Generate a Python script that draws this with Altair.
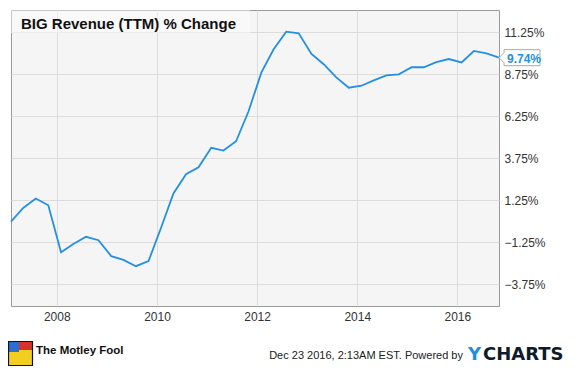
import altair as alt
import pandas as pd

# ---- data ----
dates = [
    "2007-02-01", "2007-05-01", "2007-08-01", "2007-10-31",
    "2008-02-01", "2008-05-01", "2008-08-01", "2008-10-31",
    "2009-02-01", "2009-05-01", "2009-08-01", "2009-10-31",
    "2010-02-01", "2010-05-01", "2010-08-01", "2010-10-31",
    "2011-02-01", "2011-05-01", "2011-08-01", "2011-10-31",
    "2012-02-01", "2012-05-01", "2012-08-01", "2012-10-31",
    "2013-02-01", "2013-05-01", "2013-08-01", "2013-10-31",
    "2014-02-01", "2014-05-01", "2014-08-01", "2014-10-31",
    "2015-02-01", "2015-05-01", "2015-08-01", "2015-10-31",
    "2016-02-01", "2016-05-01", "2016-08-01", "2016-10-31",
]
values = [
    -0.02, 0.79, 1.35, 0.95, -1.85, -1.36, -0.93, -1.13,
    -2.08, -2.30, -2.68, -2.38, -0.36, 1.65, 2.80, 3.21,
    4.37, 4.21, 4.76, 6.55, 8.85, 10.24, 11.29, 11.19,
    9.96, 9.35, 8.57, 7.95, 8.07, 8.39, 8.69, 8.75,
    9.17, 9.17, 9.48, 9.66, 9.46, 10.14, 10.00, 9.74,
]
y_ticks = [-3.75, -1.25, 1.25, 3.75, 6.25, 8.75, 11.25]
x_tick_years = [2008, 2010, 2012, 2014, 2016]
title_text = "BIG Revenue (TTM) % Change"
last_label = "9.74%"

BLUE = "#2390e6"
FONT = "Liberation Sans"

df = pd.DataFrame({"date": pd.to_datetime(dates), "value": values})
last_df = pd.DataFrame({"date": [pd.to_datetime(dates[-1])], "value": [values[-1]], "label": [last_label]})

x_enc = alt.X(
    "date:T",
    scale=alt.Scale(padding=0),
    axis=alt.Axis(
        values=[alt.DateTime(year=y, month=1, date=1) for y in x_tick_years],
        format="%Y", grid=True, gridColor="#dcdcdc", domain=False, ticks=False,
        labelFontSize=12, labelColor="#333333", labelPadding=5, labelFont=FONT,
        title=None,
    ),
)
y_enc = alt.Y(
    "value:Q",
    scale=alt.Scale(domain=[-5.05, 12.58], nice=False, zero=False),
    axis=alt.Axis(
        orient="right", values=y_ticks,
        labelExpr="format(datum.value, '.2f') + '%'",
        grid=True, gridColor="#dcdcdc", domain=False, ticks=False,
        labelFontSize=12, labelColor="#333333", labelPadding=5, labelFont=FONT,
        title=None,
    ),
)

line = alt.Chart(df).mark_line(color=BLUE, strokeWidth=1.8, strokeJoin="miter").encode(x=x_enc, y=y_enc)

tag_path = "M0,0 L5,-5 L5,-8 L41,-8 L41,8 L5,8 L5,5 Z"
tag = alt.Chart(last_df).mark_point(
    shape=tag_path, size=4, filled=True, fill="white", stroke="#aaaaaa",
    strokeWidth=1, opacity=1,
).encode(x="date:T", y="value:Q")
tag_text = alt.Chart(last_df).mark_text(
    align="left", baseline="middle", dx=8, dy=1, fontSize=12, fontWeight="bold",
    color=BLUE, font=FONT,
).encode(x="date:T", y="value:Q", text="label:N")

one = pd.DataFrame({"t": [title_text]})
title_box = alt.Chart(one).mark_rect(fill="white", opacity=0.45).encode(
    x=alt.value(0), x2=alt.value(239), y=alt.value(0), y2=alt.value(23)
)
title = alt.Chart(one).mark_text(
    align="left", baseline="alphabetic", fontSize=15, fontWeight="bold",
    color="#111111", font=FONT,
).encode(x=alt.value(10), y=alt.value(19), text="t:N")

footer = alt.Chart(pd.DataFrame({"t": ["Dec 23 2016, 2:13AM EST.  Powered by"]})).mark_text(
    align="right", baseline="alphabetic", fontSize=11, color="#222222", font=FONT,
).encode(x=alt.value(452), y=alt.value(349), text="t:N")
yc_y = alt.Chart(pd.DataFrame({"t": ["Y"]})).mark_text(
    align="left", baseline="alphabetic", fontSize=18, fontWeight="bold",
    color="#1b8fe0", font="DejaVu Sans",
).encode(x=alt.value(457), y=alt.value(349.5), text="t:N")
yc_rest = alt.Chart(pd.DataFrame({"t": ["CHARTS"]})).mark_text(
    align="left", baseline="alphabetic", fontSize=18, fontWeight="bold",
    color="#0d1b2a", font="DejaVu Sans",
).encode(x=alt.value(472), y=alt.value(349.5), text="t:N")

fool = alt.Chart(pd.DataFrame({"t": ["The Motley Fool"]})).mark_text(
    align="left", baseline="middle", fontSize=11.5, fontWeight="bold",
    color="#111111", font=FONT,
).encode(x=alt.value(25), y=alt.value(341), text="t:N")

logo_df = pd.DataFrame({
    "x": [-3, -2, 6, -2], "x2": [22, 21, 21, 8],
    "y": [331, 340, 332, 332], "y2": [356, 355, 340, 342],
    "c": ["#ffffff", "#f2cf1f", "#d9312b", "#2c6fd1"],
})
logo = alt.Chart(logo_df).mark_rect(stroke=None).encode(
    x=alt.X("x:Q", scale=None), x2="x2:Q",
    y=alt.Y("y:Q", scale=None), y2="y2:Q",
    fill=alt.Fill("c:N", scale=None),
)
logo_border = alt.Chart(pd.DataFrame({"a": [0]})).mark_rect(
    fill=None, stroke="#111111", strokeWidth=1.2
).encode(x=alt.value(-2.5), x2=alt.value(21.5), y=alt.value(331.5), y2=alt.value(355.5))

chart = alt.layer(
    line, tag, tag_text, title_box, title, footer, yc_y, yc_rest, fool, logo, logo_border
).resolve_scale(x="shared", y="shared").properties(
    width=488, height=296,
    autosize=alt.AutoSizeParams(type="none"),
    padding={"left": 3, "top": 2, "right": 73, "bottom": 62},
    background="white",
).configure_view(
    stroke="#9a9a9a", strokeWidth=1, fill="#f5f5f5"
)

chart.save("out.html", embed_options={"renderer": "svg", "actions": False})
